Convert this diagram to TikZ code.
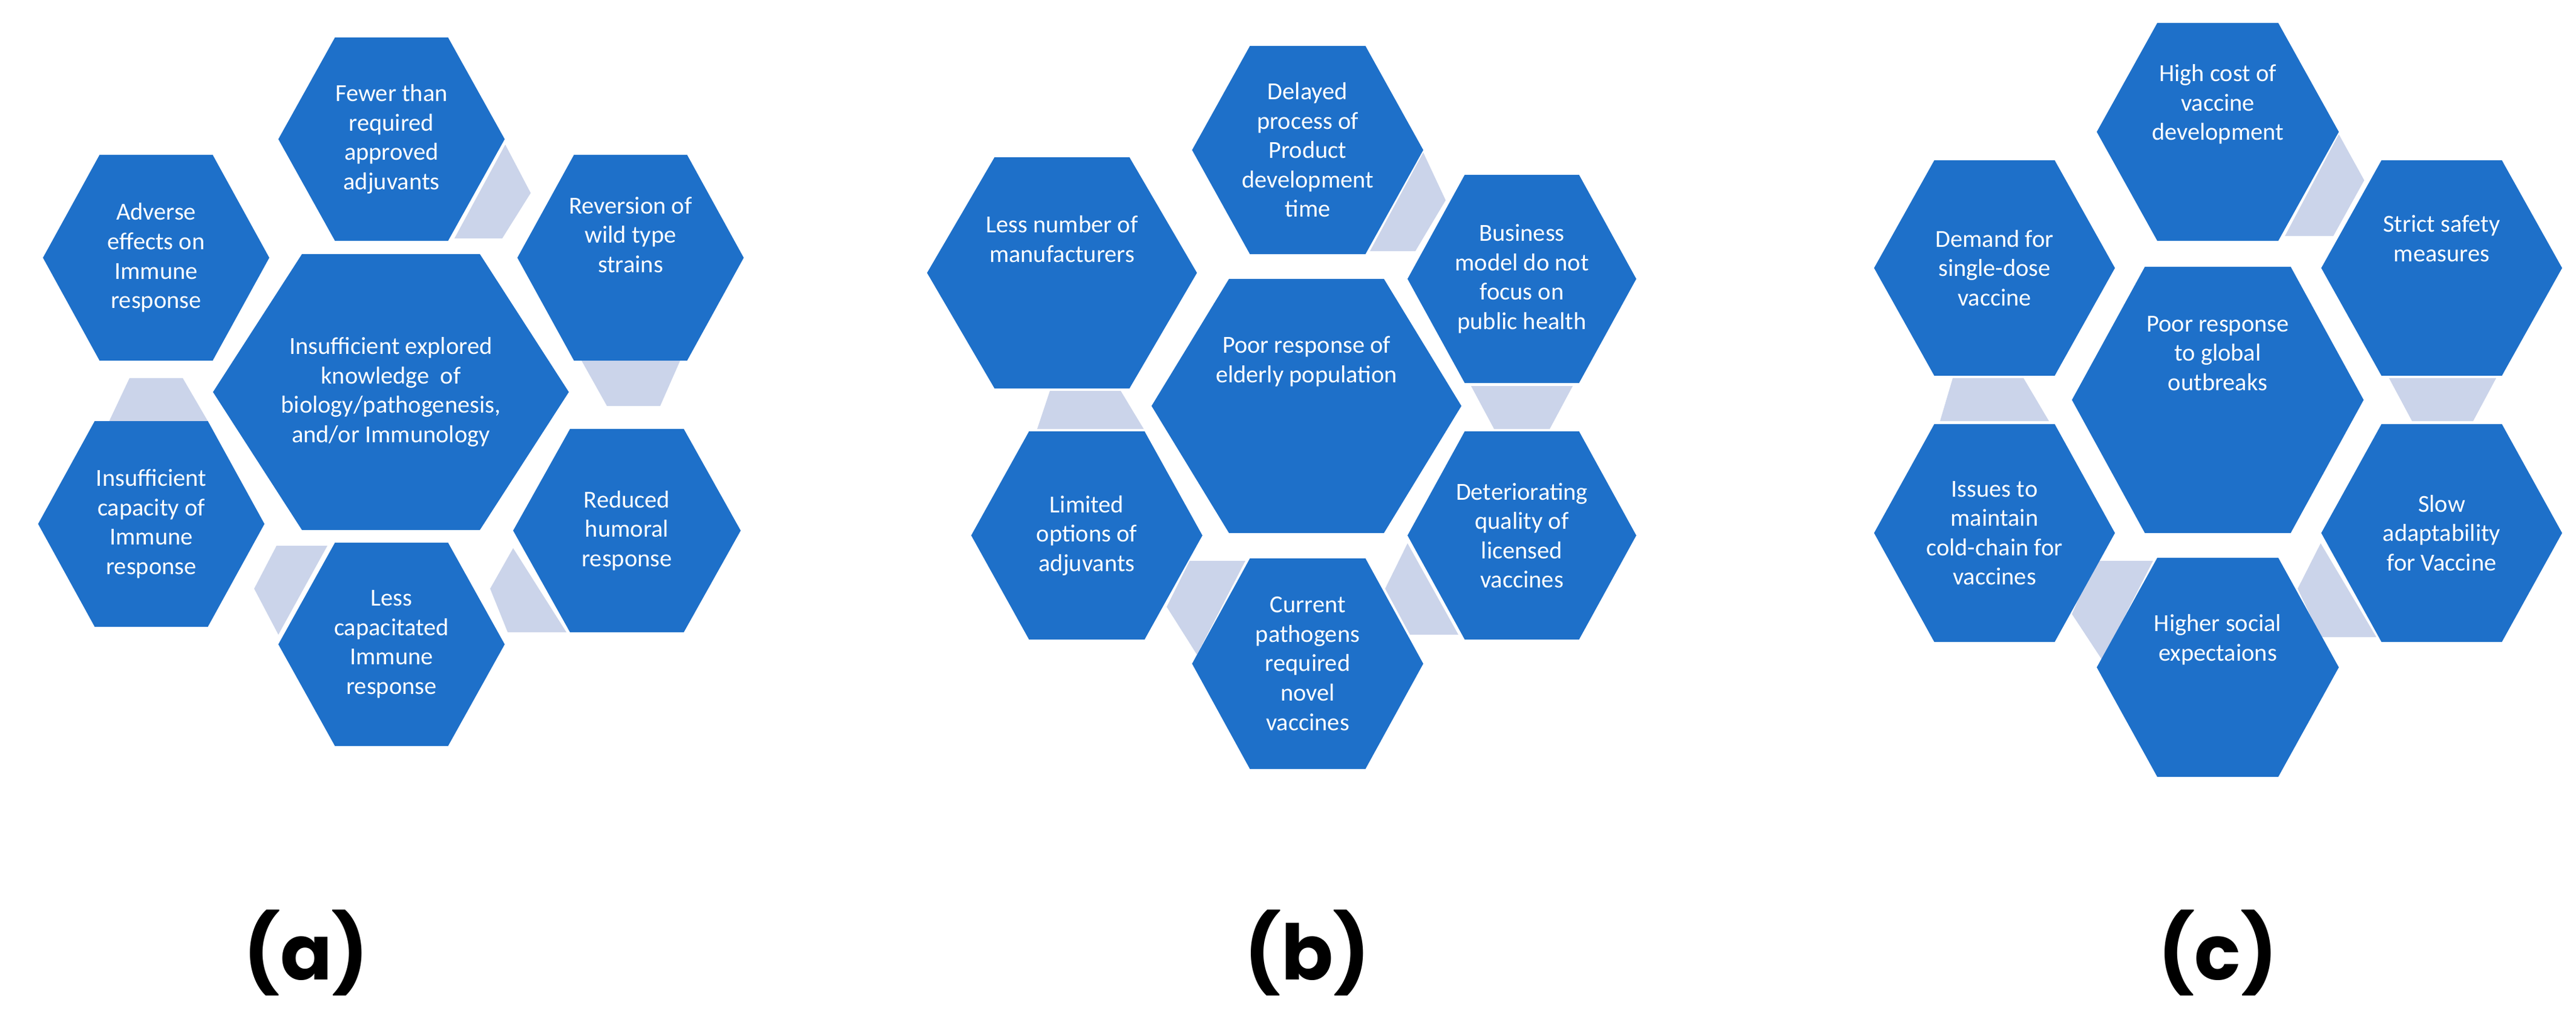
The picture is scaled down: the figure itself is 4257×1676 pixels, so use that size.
\documentclass[tikz,border=0pt]{standalone}
\usepackage{fontspec}
\setmainfont{Carlito}
\newfontfamily\labfont{Poppins}
\definecolor{hexblue}{HTML}{1E70C9}
\definecolor{linkgrey}{HTML}{CBD4EA}
\newcommand\hexa[6]{%
  \fill[hexblue] (#2,#3) ++(-#4,0) -- ++({0.5*#4},{-#5}) -- ++(#4,0) -- ++({0.5*#4},#5) -- ++({-0.5*#4},#5) -- ++(-#4,0) -- cycle;
  \node[hextext] (#1) at (#2,#3) {#6};}
\tikzset{hextext/.style={text=white,align=center,font=\fontsize{11.5pt}{13.8pt}\selectfont},
  link/.style={fill=linkgrey},
  panellab/.style={font=\labfont\bfseries\fontsize{36pt}{40pt}\selectfont}}
\begin{document}
\begin{tikzpicture}[x=0.01cm,y=-0.01cm]
\useasboundingbox[fill=white] (0,0) rectangle (4257,1676);
% ---------- (a) links
\fill[link] (835,239) -- (877,319) -- (830,394) -- (751,394) -- cycle;
\fill[link] (961,596) -- (1124,596) -- (1091,671) -- (1003,671) -- cycle;
\fill[link] (214,625) -- (302,625) -- (344,697) -- (180,697) -- cycle;
\fill[link] (420,973) -- (457,902) -- (541,902) -- (460,1049) -- cycle;
\fill[link] (810,973) -- (848,906) -- (936,1045) -- (839,1045) -- cycle;
% (a) hexagons
\hexa{a1}{647}{230}{187}{168}{Fewer than\\required\\approved\\adjuvants}
\hexa{a2}{258}{426}{187}{170}{Adverse\\effects on\\Immune\\response}
\hexa{a3}{1042}{426}{187}{170}{Reversion of\\wild type\\strains\\[8pt]}
\hexa{a0}{646}{648}{294}{228}{Insufficient explored\\knowledge\ \ of\\biology/pathogenesis,\\and/or Immunology}
\hexa{a4}{250}{866}{187}{170}{Insufficient\\capacity of\\Immune\\response}
\hexa{a5}{1036}{877}{188}{168}{Reduced\\humoral\\response}
\hexa{a6}{647}{1065}{187}{168}{Less\\capacitated\\Immune\\response}
% ---------- (b) links
\fill[link] (2352,252) -- (2389,331) -- (2339,415) -- (2264,415) -- cycle;
\fill[link] (2431,638) -- (2599,638) -- (2561,709) -- (2469,709) -- cycle;
\fill[link] (1735,646) -- (1852,646) -- (1890,709) -- (1714,709) -- cycle;
\fill[link] (1928,1003) -- (1966,927) -- (2058,927) -- (1978,1082) -- cycle;
\fill[link] (2289,973) -- (2326,898) -- (2410,1049) -- (2330,1049) -- cycle;
% (b) hexagons
\hexa{b1}{2161}{248}{191}{172}{Delayed\\process of\\Product\\development\\time}
\hexa{b2}{1755}{451}{223}{191}{Less number of\\manufacturers\\[18pt]}
\hexa{b3}{2515}{461}{189}{172}{Business\\model do not\\focus on\\public health}
\hexa{b0}{2159}{671}{256}{210}{Poor response of\\elderly population\\[30pt]}
\hexa{b4}{1796}{885}{191}{172}{Limited\\options of\\adjuvants}
\hexa{b5}{2515}{885}{189}{172}{Deteriorating\\quality of\\licensed\\vaccines}
\hexa{b6}{2161}{1097}{191}{174}{Current\\pathogens\\required\\novel\\vaccines}
% ---------- (c) links
\fill[link] (3865,222) -- (3907,298) -- (3856,390) -- (3776,390) -- cycle;
\fill[link] (3948,625) -- (4125,625) -- (4087,696) -- (3986,696) -- cycle;
\fill[link] (3227,625) -- (3344,625) -- (3386,696) -- (3206,696) -- cycle;
\fill[link] (3424,1015) -- (3462,927) -- (3558,927) -- (3474,1091) -- cycle;
\fill[link] (3797,973) -- (3835,898) -- (3927,1053) -- (3835,1053) -- cycle;
% (c) hexagons
\hexa{c1}{3665}{218}{200}{180}{High cost of\\vaccine\\development\\[14pt]}
\hexa{c2}{3296}{443}{199}{178}{Demand for\\single-dose\\vaccine}
\hexa{c3}{4035}{443}{199}{178}{Strict safety\\measures\\[14pt]}
\hexa{c0}{3665}{661}{241}{220}{Poor response\\to global\\outbreaks\\[30pt]}
\hexa{c4}{3296}{881}{199}{180}{Issues to\\maintain\\cold-chain for\\vaccines}
\hexa{c5}{4035}{881}{199}{180}{Slow\\adaptability\\for Vaccine}
\hexa{c6}{3665}{1103}{200}{181}{Higher social\\expectaions\\[14pt]}
% ---------- panel labels
\node[panellab] (la) at (506,1575) {(a)};
\node[panellab] (lb) at (2160,1575) {(b)};
\node[panellab] (lc) at (3665,1575) {(c)};
\end{tikzpicture}
\end{document}
